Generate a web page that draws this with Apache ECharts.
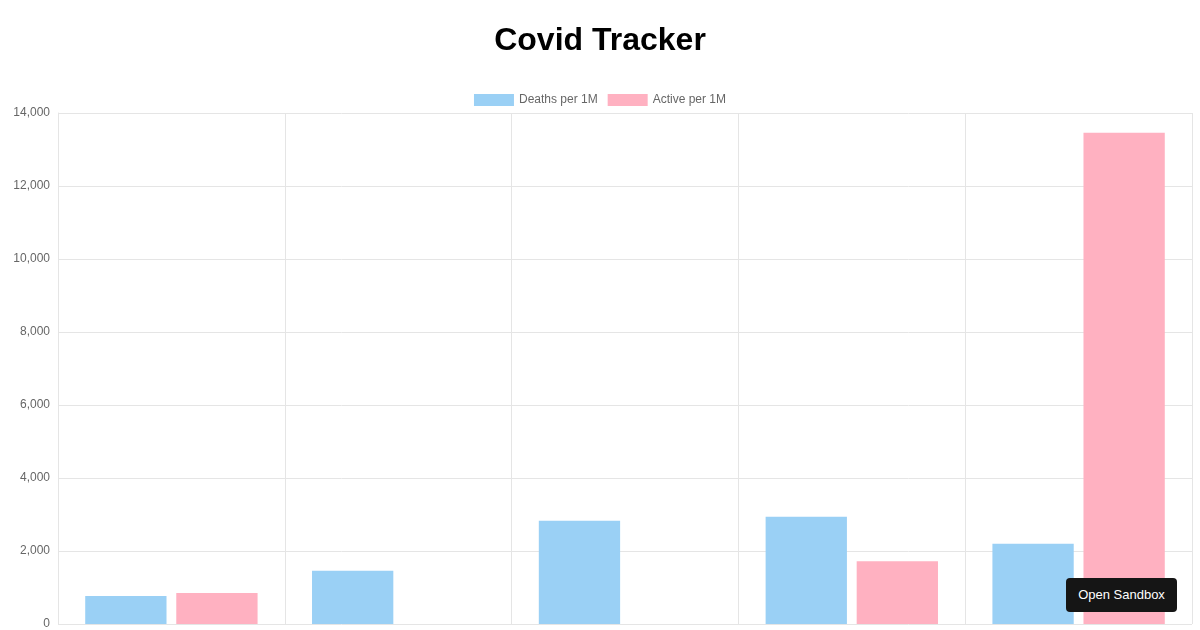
<!DOCTYPE html>
<html>
<head>
<meta charset="utf-8">
<script src="https://cdn.jsdelivr.net/npm/echarts@6/dist/echarts.min.js"></script>
<style>
  html, body { margin: 0; padding: 0; background: #fff; overflow: hidden; }
  #chart { width: 1200px; height: 630px; }
  #btn {
    position: absolute; left: 1066px; top: 578px; width: 111px; height: 34px;
    background: #151515; color: #fff; border-radius: 4px;
    font: 13px "Liberation Sans", Arial, sans-serif; line-height: 34px; text-align: center;
  }
</style>
</head>
<body>
<div id="chart"></div>
<div id="btn">Open Sandbox</div>
<script>
// categories are below the visible area in the reference
const countries = ['India', 'Brazil', 'Peru', 'USA', 'Belgium'];
const deathsPer1M = [770, 1460, 2830, 2940, 2200];
const activePer1M = [850, 0, 0, 1720, 13460];

const chart = echarts.init(document.getElementById('chart'));

chart.setOption({
  animation: false,
  title: {
    text: 'Covid Tracker',
    left: 'center',
    top: 20,
    textStyle: { fontSize: 32, fontWeight: 'bold', color: '#000', fontFamily: 'Liberation Sans' }
  },
  legend: {
    top: 89,
    left: 'center',
    itemWidth: 40,
    itemHeight: 12,
    itemGap: 10,
    icon: 'rect',
    textStyle: { color: '#666', fontSize: 12, fontFamily: 'Liberation Sans' }
  },
  grid: { left: 58, right: 8, top: 113, bottom: -14 },
  xAxis: {
    type: 'category',
    data: countries,
    axisTick: { show: false },
    axisLine: { show: false },
    axisLabel: { show: false },
    splitLine: { show: true, interval: 0, lineStyle: { color: '#e5e5e5' } }
  },
  yAxis: {
    type: 'value',
    min: 0,
    max: 14000,
    interval: 2000,
    axisLine: { show: true, lineStyle: { color: '#e5e5e5' } },
    axisLabel: {
      color: '#666', fontSize: 12, fontFamily: 'Liberation Sans',
      formatter: v => v.toLocaleString('en-US')
    },
    splitLine: { lineStyle: { color: '#e5e5e5' } }
  },
  series: [{
    name: 'Deaths per 1M',
    type: 'bar',
    data: deathsPer1M,
    barCategoryGap: '24%',
    barGap: '12%',
    itemStyle: { color: '#9ad0f5' }
  }, {
    name: 'Active per 1M',
    type: 'bar',
    data: activePer1M,
    itemStyle: { color: '#ffb1c1' }
  }]
});
</script>
</body>
</html>
